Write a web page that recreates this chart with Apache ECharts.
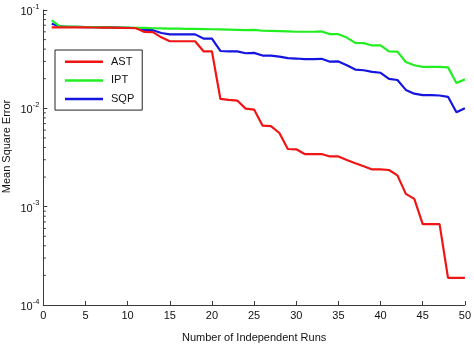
<!DOCTYPE html>
<html>
<head>
<meta charset="utf-8">
<script src="https://cdn.jsdelivr.net/npm/echarts@6/dist/echarts.min.js"></script>
<style>html,body{margin:0;padding:0;background:#fff;}#c{width:474px;height:348px;}</style>
</head>
<body>
<div id="c"></div>
<script>
const runs = Array.from({length: 50}, (_, i) => i + 1);
const xTicks = [0, 5, 10, 15, 20, 25, 30, 35, 40, 45, 50];
const yTicks = [1e-4, 1e-3, 1e-2, 1e-1];
const seriesNames = ['AST', 'IPT', 'SQP'];
const ast = [0.0665,0.0668,0.0667,0.0666,0.0665,0.0664,0.0663,0.0661,0.0659,0.0656,
             0.0652,0.0598,0.0595,0.0527,0.0481,0.0481,0.0481,0.0481,0.0380,0.0380,
             0.0125,0.0122,0.0120,0.00993,0.00971,0.00668,0.00658,0.00561,0.00386,0.00383,
             0.00343,0.00343,0.00343,0.00324,0.00324,0.00298,0.00276,0.00258,0.00239,0.00239,
             0.00236,0.00208,0.00135,0.00120,0.000664,0.000664,0.000664,0.000189,0.000189,0.000189];
const ipt = [0.0783,0.0678,0.0676,0.0674,0.0672,0.0670,0.0668,0.0666,0.0664,0.0662,
             0.0660,0.0657,0.0652,0.0650,0.0648,0.0646,0.0644,0.0642,0.0640,0.0637,
             0.0635,0.0633,0.0629,0.0623,0.0629,0.0615,0.0612,0.0609,0.0605,0.0601,
             0.0601,0.0601,0.0605,0.0568,0.0568,0.0524,0.0463,0.0460,0.0436,0.0436,
             0.0380,0.0377,0.0296,0.0274,0.0264,0.0264,0.0264,0.0261,0.0181,0.0197];
const sqp = [0.0726,0.0680,0.0675,0.0673,0.0671,0.0669,0.0667,0.0665,0.0663,0.0660,
             0.0656,0.0623,0.0623,0.0584,0.0565,0.0565,0.0565,0.0565,0.0512,0.0512,
             0.0383,0.0380,0.0380,0.0363,0.0366,0.0344,0.0344,0.0336,0.0324,0.0321,
             0.0317,0.0317,0.0319,0.0298,0.0300,0.0274,0.0248,0.0244,0.0235,0.0230,
             0.0199,0.0194,0.0154,0.0141,0.0136,0.0136,0.0135,0.0131,0.00913,0.0100];

const colors = ['#f01515', '#22ee22', '#1515e0'];
const axisColor = '#3a3a3a';
const FONT = 'Liberation Sans, Arial, sans-serif';

// minor ticks of the log axis (2..9 within each decade)
const minorTicks = [];
for (let e = -4; e < -1; e++) for (let k = 2; k <= 9; k++) minorTicks.push(k * Math.pow(10, e));

const chart = echarts.init(document.getElementById('c'), null, {renderer: 'canvas'});
const lineSeries = [ast, ipt, sqp].map((vals, i) => ({
  name: seriesNames[i],
  type: 'line',
  data: runs.map((r, j) => [r, vals[j]]),
  showSymbol: false,
  symbol: 'none',
  lineStyle: {color: colors[i], width: 2.2},
  itemStyle: {color: colors[i]},
  animation: false,
  z: 3 - i
}));

chart.setOption({
  animation: false,
  grid: {left: 43.3, right: 6.3, top: 10, bottom: 35.3, containLabel: false},
  legend: {
    data: seriesNames.map(n => ({name: n, icon: 'rect'})),
    orient: 'vertical',
    left: 55, top: 50,
    itemWidth: 38, itemHeight: 2.5,
    itemGap: 4.7,
    padding: [4.7, 8, 4, 10],
    borderColor: '#222', borderWidth: 1,
    backgroundColor: '#fff',
    textStyle: {fontFamily: FONT, fontSize: 11, color: '#111', lineHeight: 14, padding: [0, 0, 0, 3]}
  },
  xAxis: {
    type: 'value', min: 0, max: 50, interval: 5,
    name: 'Number of Independent Runs', nameLocation: 'middle', nameGap: 27,
    nameTextStyle: {fontFamily: FONT, fontSize: 11, color: '#111'},
    axisLine: {show: true, lineStyle: {color: axisColor, width: 1}},
    axisTick: {show: true, inside: true, length: 4, lineStyle: {color: axisColor}},
    axisLabel: {fontFamily: FONT, fontSize: 11, color: '#111', margin: 5,
      formatter: v => xTicks.includes(v) ? String(v) : ''},
    splitLine: {show: false}
  },
  yAxis: {
    type: 'log', logBase: 10, min: yTicks[0], max: yTicks[yTicks.length - 1], interval: 1,
    axisLine: {show: true, lineStyle: {color: axisColor, width: 1}},
    axisTick: {show: true, inside: true, length: 4, lineStyle: {color: axisColor}},
    axisLabel: {
      margin: 4,
      formatter: v => '{b|10}{s|' + Math.round(Math.log10(v)) + '}',
      rich: {
        b: {fontFamily: FONT, fontSize: 11, color: '#111', lineHeight: 15, verticalAlign: 'bottom'},
        s: {fontFamily: FONT, fontSize: 7.5, color: '#111', lineHeight: 8, verticalAlign: 'top'}
      }
    },
    splitLine: {show: false}
  },
  graphic: [{
    type: 'text', x: 6.5, y: 146.5, rotation: Math.PI / 2,
    style: {text: 'Mean Square Error', fontFamily: FONT, fontSize: 11, fill: '#111',
      align: 'center', verticalAlign: 'middle'}
  }],
  series: lineSeries.concat([{
    type: 'custom',
    name: 'minor',
    silent: true,
    clip: false,
    data: minorTicks.map(v => [0, v]),
    renderItem: (params, api) => {
      const p = api.coord([api.value(0), api.value(1)]);
      return {type: 'line', shape: {x1: p[0], y1: p[1], x2: p[0] + 2.5, y2: p[1]},
        style: {stroke: axisColor, lineWidth: 1}};
    },
    z: 5
  }])
});
</script>
</body>
</html>
